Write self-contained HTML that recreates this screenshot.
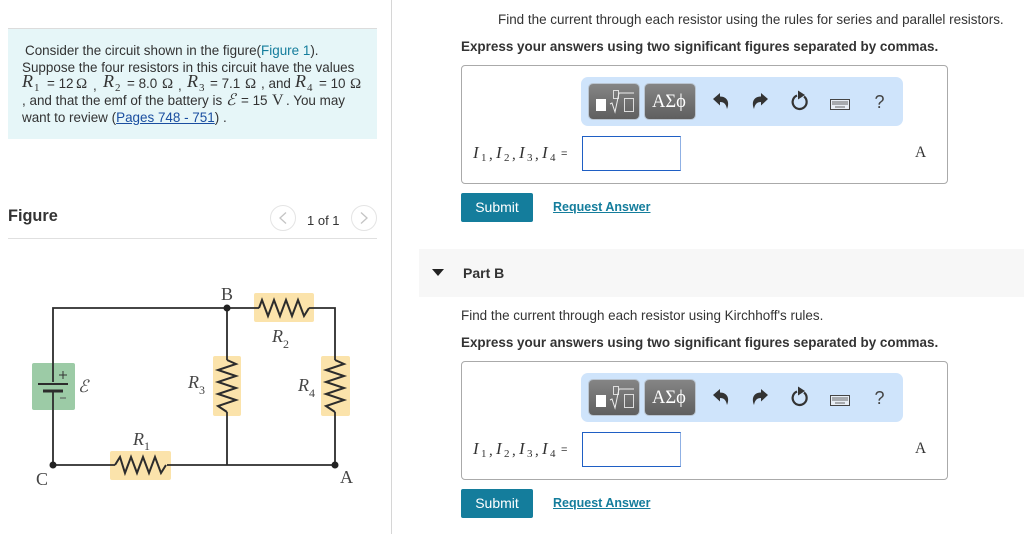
<!DOCTYPE html>
<html><head><meta charset="utf-8"><style>
html,body{margin:0;padding:0;background:#fff}
body{width:1024px;height:534px;position:relative;overflow:hidden;font-family:"Liberation Sans",sans-serif;color:#333}
.t{position:absolute;white-space:nowrap;font-size:13.45px;line-height:16px;color:#333}
.b{font-weight:bold}
.box{position:absolute;left:461px;width:485px;height:117px;border:1px solid #aaa;border-radius:4px;box-sizing:content-box}
.tb{position:absolute;left:581px;width:322px;height:49px;background:#cfe4fb;border-radius:7px}
.btn{position:absolute;top:7px;width:50px;height:35px;border-radius:4px;background:linear-gradient(#858585,#5f5f5f);box-shadow:0 0 0 1px #b9c4d0}
.inp{position:absolute;left:582px;width:97px;height:33px;border:1px solid #1f5fc4;border-right-color:#8fb0e4}
.sub{position:absolute;left:461px;width:72px;height:29px;background:#147d9c;border-radius:2px;color:#fff;font-size:14px;line-height:29px;text-align:center}
.req{position:absolute;left:553px;font-size:12.5px;font-weight:bold;color:#147d9c;text-decoration:underline;line-height:14px}
.unit{position:absolute;left:915px;font-family:"Liberation Serif",serif;font-size:15.500px;line-height:18px;color:#333}
svg text{white-space:pre}
</style></head><body>
<div style="position:absolute;left:391px;top:0;width:1px;height:534px;background:#d6d6d6"></div>
<div style="position:absolute;left:8px;top:28px;width:369px;height:111px;background:#e6f6f8;border-top:1px solid #dcdcdc;box-sizing:border-box"></div>
<div class="t" style="left:25px;top:43px">Consider the circuit shown in the figure(<span style="color:#147d9c">Figure 1</span>).</div>
<div class="t" style="left:22px;top:60px">Suppose the four resistors in this circuit have the values</div>
<div class="t" style="left:22px;top:110px">want to review (<span style="color:#1a4ea0;text-decoration:underline">Pages 748 - 751</span>) .</div>

<div class="t b" style="left:8px;top:207px;font-size:16.3px;line-height:18px">Figure</div>
<div style="position:absolute;left:8px;top:238px;width:369px;height:1px;background:#e0e0e0"></div>
<div class="t" style="left:307px;top:212px;font-size:13px;line-height:17px">1 of 1</div>
<svg style="position:absolute;left:0;top:0" width="1024" height="534" viewBox="0 0 1024 534">
<g font-family="Liberation Sans,sans-serif" font-size="13.450" fill="#333">
<text x="47" y="88">= 12</text><text x="93" y="90">,</text>
<text x="127" y="88">= 8.0</text><text x="178" y="90">,</text>
<text x="210" y="88">= 7.1</text><text x="261" y="88">, and</text>
<text x="319" y="88">= 10</text>
<text x="22" y="105">, and that the emf of the battery is</text>
<text x="241" y="105">= 15</text><text x="286" y="105">. You may</text>
</g>
<g font-family="Liberation Serif,serif" fill="#333">
<g font-size="18" font-style="italic"><text x="22" y="87">R</text><text x="103" y="87">R</text><text x="187" y="87">R</text><text x="295" y="87">R</text><text x="226" y="105" font-size="16">ℰ</text></g>
<g font-size="11"><text x="34" y="91">1</text><text x="115" y="91">2</text><text x="199" y="91">3</text><text x="307" y="91">4</text></g>
<g font-size="15"><text x="76" y="88">Ω</text><text x="162" y="88">Ω</text><text x="245" y="88">Ω</text><text x="350" y="88">Ω</text><text x="272" y="105" font-size="16">V</text></g>
</g>
<circle cx="283" cy="218" r="12.500" fill="#fff" stroke="#e4e4e4"/><path d="M286 212.500 L280 218 L286 223.500" fill="none" stroke="#c4c4c4" stroke-width="1.300"/>
<circle cx="364" cy="218" r="12.500" fill="#fff" stroke="#e4e4e4"/><path d="M361 212.500 L367 218 L361 223.500" fill="none" stroke="#c4c4c4" stroke-width="1.300"/>
<rect x="32" y="363" width="43" height="47" rx="2" fill="#9ccba6"/>
<rect x="254" y="293" width="60" height="29" rx="2" fill="#fbe3ab"/>
<rect x="213" y="356" width="28" height="60" rx="2" fill="#fbe3ab"/>
<rect x="321" y="356" width="29" height="60" rx="2" fill="#fbe3ab"/>
<rect x="110" y="451" width="61" height="29" rx="2" fill="#fbe3ab"/>
<g fill="none" stroke="#2c2c2c" stroke-width="1.800">
<path d="M53 382V308H259M309 308H335V360M335 412V465H167M115 465H53V400"/>
<path d="M227 308V360M227 412V465"/>
<path d="M259 308L262 300L268 316L274 300L280 316L286 300L292 316L298 300L304 316L309 308" stroke-width="2"/>
<path d="M115 465L120 457L125 473L131 457L137 473L143 457L149 473L155 457L161 473L166 465" stroke-width="2"/>
<path d="M227 360L236 364L218 370L236 376L218 382L236 388L218 394L236 400L218 406L227 412" stroke-width="2"/>
<path d="M335 360L344 364L326 370L344 376L326 382L344 388L326 394L344 400L326 406L335 412" stroke-width="2"/>
<path d="M38 384H68" stroke-width="2"/><path d="M43 391H63" stroke-width="3"/><path d="M53 391V400"/>
</g>
<path d="M59 375H67M63 371V379" stroke="#333" stroke-width="1"/><path d="M60 398H66" stroke="#555" stroke-width="1"/>
<circle cx="227" cy="308" r="3.500" fill="#222"/><circle cx="53" cy="465" r="3.500" fill="#222"/><circle cx="335" cy="465" r="3.500" fill="#222"/>
<g font-family="Liberation Serif,serif" fill="#444" font-size="18">
<text x="221" y="300">B</text><text x="36" y="485">C</text><text x="340" y="483">A</text>
<g font-style="italic"><text x="272" y="342">R</text><text x="188" y="388">R</text><text x="298" y="391">R</text><text x="133" y="445">R</text><text x="78" y="392" font-size="17">ℰ</text></g>
<g font-size="12"><text x="283" y="348">2</text><text x="199" y="394">3</text><text x="309" y="397">4</text><text x="144" y="450">1</text></g>
</g>
</svg>

<div class="t" style="left:498px;top:12px">Find the current through each resistor using the rules for series and parallel resistors.</div>
<div class="t b" style="left:461px;top:39px">Express your answers using two significant figures separated by commas.</div>
<div class="box" style="top:65px"></div>
<div class="tb" style="top:77px"><div class="btn" style="left:8px"></div><div class="btn" style="left:64px"></div></div>
<div class="inp" style="top:136px"></div>
<div class="unit" style="top:144px">A</div>
<div class="sub" style="top:193px">Submit</div>
<div class="req" style="top:200px">Request Answer</div>

<div style="position:absolute;left:419px;top:249px;width:605px;height:48px;background:#f7f7f7"></div>
<div style="position:absolute;left:432px;top:269px;width:0;height:0;border-left:6px solid transparent;border-right:6px solid transparent;border-top:7px solid #222"></div>
<div class="t b" style="left:463px;top:265px;font-size:14px">Part B</div>
<div class="t" style="left:461px;top:308px">Find the current through each resistor using Kirchhoff's rules.</div>
<div class="t b" style="left:461px;top:335px">Express your answers using two significant figures separated by commas.</div>
<div class="box" style="top:361px"></div>
<div class="tb" style="top:373px"><div class="btn" style="left:8px"></div><div class="btn" style="left:64px"></div></div>
<div class="inp" style="top:432px"></div>
<div class="unit" style="top:440px">A</div>
<div class="sub" style="top:489px">Submit</div>
<div class="req" style="top:496px">Request Answer</div>

<svg style="position:absolute;left:0;top:0" width="1024" height="534" viewBox="0 0 1024 534">
<g>
<rect x="596" y="99" width="10" height="12" fill="#fff"/>
<rect x="613.500" y="90.500" width="5" height="8" fill="none" stroke="#ddd"/>
<path d="M610 104L612 103L615 112L619 93H634" fill="none" stroke="#eee"/>
<rect x="624.500" y="98.500" width="9" height="13" fill="none" stroke="#ddd"/>
<text x="652" y="107" font-family="Liberation Serif,serif" font-size="18.500" fill="#fff">ΑΣϕ</text>
<path d="M713 99L720 93V96.500C727 96.500 730 102 727 109C726 104 724 102 720 102V105.500Z" fill="#333"/>
<path d="M768 99L761 93V96.500C754 96.500 751 102 754 109C755 104 757 102 761 102V105.500Z" fill="#333"/>
<path d="M797 95.500A7 7 0 1 0 804 96.500" fill="none" stroke="#333" stroke-width="2.200"/><path d="M798 90.500L805 95L798 99.500Z" fill="#333"/>
<rect x="830.500" y="99.500" width="19" height="10" fill="#e8eef5" stroke="#444"/><path d="M832 102H848M832 104H848M835 107H845" stroke="#666"/>
<text x="874.500" y="108" font-size="18" fill="#444" font-family="Liberation Sans,sans-serif">?</text>
<g font-family="Liberation Serif,serif" fill="#333">
<g font-size="17" font-style="italic"><text x="473" y="158">I</text><text x="496" y="158">I</text><text x="519" y="158">I</text><text x="542" y="158">I</text></g>
<g font-size="11"><text x="481" y="161">1</text><text x="504" y="161">2</text><text x="527" y="161">3</text><text x="550" y="161">4</text></g>
<g font-size="15"><text x="489" y="159">,</text><text x="512" y="159">,</text><text x="535" y="159">,</text></g>
</g>
<text x="561" y="157" font-family="Liberation Sans,sans-serif" font-size="11" fill="#333">=</text>
</g>
<g transform="translate(0,296)">
<rect x="596" y="99" width="10" height="12" fill="#fff"/>
<rect x="613.500" y="90.500" width="5" height="8" fill="none" stroke="#ddd"/>
<path d="M610 104L612 103L615 112L619 93H634" fill="none" stroke="#eee"/>
<rect x="624.500" y="98.500" width="9" height="13" fill="none" stroke="#ddd"/>
<text x="652" y="107" font-family="Liberation Serif,serif" font-size="18.500" fill="#fff">ΑΣϕ</text>
<path d="M713 99L720 93V96.500C727 96.500 730 102 727 109C726 104 724 102 720 102V105.500Z" fill="#333"/>
<path d="M768 99L761 93V96.500C754 96.500 751 102 754 109C755 104 757 102 761 102V105.500Z" fill="#333"/>
<path d="M797 95.500A7 7 0 1 0 804 96.500" fill="none" stroke="#333" stroke-width="2.200"/><path d="M798 90.500L805 95L798 99.500Z" fill="#333"/>
<rect x="830.500" y="99.500" width="19" height="10" fill="#e8eef5" stroke="#444"/><path d="M832 102H848M832 104H848M835 107H845" stroke="#666"/>
<text x="874.500" y="108" font-size="18" fill="#444" font-family="Liberation Sans,sans-serif">?</text>
<g font-family="Liberation Serif,serif" fill="#333">
<g font-size="17" font-style="italic"><text x="473" y="158">I</text><text x="496" y="158">I</text><text x="519" y="158">I</text><text x="542" y="158">I</text></g>
<g font-size="11"><text x="481" y="161">1</text><text x="504" y="161">2</text><text x="527" y="161">3</text><text x="550" y="161">4</text></g>
<g font-size="15"><text x="489" y="159">,</text><text x="512" y="159">,</text><text x="535" y="159">,</text></g>
</g>
<text x="561" y="157" font-family="Liberation Sans,sans-serif" font-size="11" fill="#333">=</text>
</g>
</svg>
</body></html>
